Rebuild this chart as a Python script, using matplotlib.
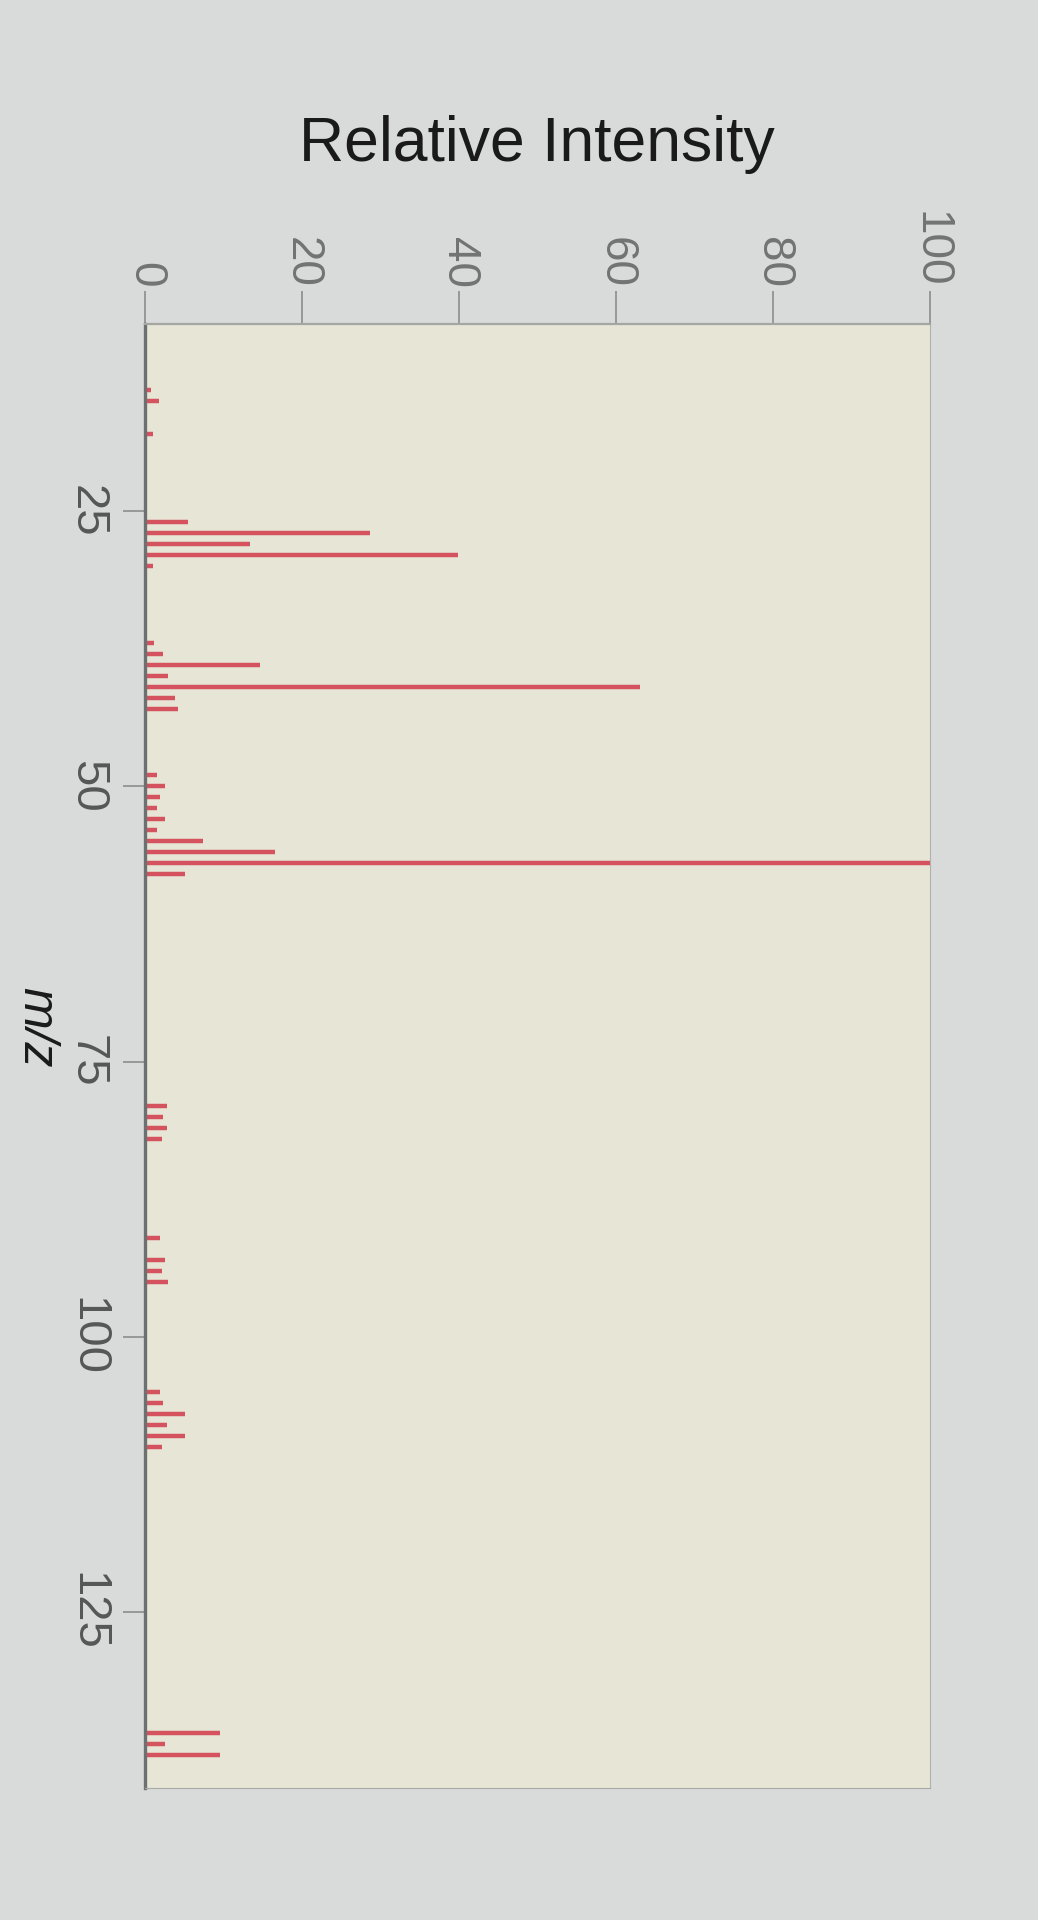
import matplotlib.pyplot as plt

# mass spectrum, drawn rotated (m/z runs downward, intensity to the right)
mz = [14, 15, 18, 26, 27, 28, 29, 30, 37, 38, 39, 40, 41, 42, 43,
      49, 50, 51, 52, 53, 54, 55, 56, 57, 58,
      79, 80, 81, 82, 91, 93, 94, 95,
      105, 106, 107, 108, 109, 110, 136, 137, 138]
intensity = [0.8, 1.8, 1.0, 5.5, 28.7, 13.4, 39.9, 1.0, 1.2, 2.3, 14.6, 2.9, 63.0, 3.8, 4.2,
             1.5, 2.5, 1.9, 1.5, 2.5, 1.5, 7.4, 16.6, 100.0, 5.1,
             2.8, 2.3, 2.8, 2.2, 1.9, 2.5, 2.2, 2.9,
             1.9, 2.3, 5.1, 2.8, 5.1, 2.2, 9.6, 2.5, 9.6]
mz_ticks = [25, 50, 75, 100, 125]
int_ticks = [0, 20, 40, 60, 80, 100]

plt.rcParams['font.family'] = ['Liberation Sans', 'DejaVu Sans']

fig = plt.figure(figsize=(10.38, 19.2), dpi=100)
fig.patch.set_facecolor('#d9dbdb')
ax = fig.add_axes([0.1397, 0.06875, 0.7563, 0.7625])
ax.set_facecolor('#e6e5d6')

ax.hlines(mz, 0, intensity, color='#d5525f', linewidth=3.2)

ax.set_xlim(0, 100)
ax.set_ylim(141, 8)

ax.set_xticks(int_ticks)
ax.set_yticks(mz_ticks)
ax.xaxis.tick_top()
ax.tick_params(axis='x', direction='out', length=24, width=1.2, color='#8c8e8c',
               labelsize=33, labelcolor='#727474', pad=2, labelrotation=-90)
ax.tick_params(axis='y', direction='out', length=16, width=1.2, color='#8c8e8c',
               labelsize=34, labelcolor='#555757', pad=10, labelrotation=-90)
for lab in ax.get_yticklabels():
    lab.set_va('center')
for lab in ax.get_xticklabels():
    lab.set_ha('center')

ax.spines['left'].set_color('#6d7070')
ax.spines['left'].set_linewidth(2.4)
ax.spines['top'].set_color('#a4a6a2')
ax.spines['top'].set_linewidth(1.6)
ax.spines['right'].set_color('#b0b2ae')
ax.spines['bottom'].set_color('#a8aaa6')

fig.text(0.5176, 0.9245, 'Relative Intensity', ha='center', va='center',
         fontsize=45, color='#1a1a1a')
fig.text(0.035, 0.465, 'm/z', ha='center', va='center', rotation=-90,
         fontsize=36, style='italic', color='#1a1a1a')

fig.savefig('out.png', dpi=100, facecolor=fig.get_facecolor())
